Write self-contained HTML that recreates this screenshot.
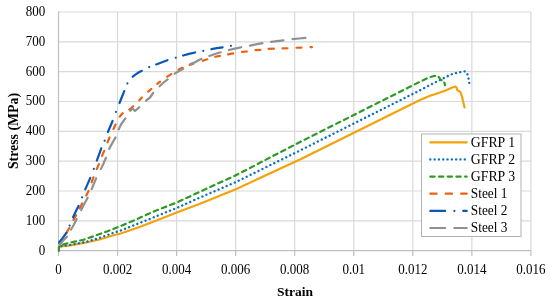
<!DOCTYPE html>
<html><head><meta charset="utf-8"><style>
html,body{margin:0;padding:0;background:#fff;}
body{width:550px;height:300px;overflow:hidden;}
svg{display:block;}
text{font-family:"Liberation Serif",serif;fill:#000;}
</style></head><body>
<svg width="550" height="300" viewBox="0 0 550 300">
<rect width="550" height="300" fill="#fff"/>
<g stroke="#D9D9D9" stroke-width="1.2" fill="none"><line x1="58.5" y1="220.86" x2="531" y2="220.86"/><line x1="58.5" y1="191.02" x2="531" y2="191.02"/><line x1="58.5" y1="161.18" x2="531" y2="161.18"/><line x1="58.5" y1="131.34" x2="531" y2="131.34"/><line x1="58.5" y1="101.50" x2="531" y2="101.50"/><line x1="58.5" y1="71.66" x2="531" y2="71.66"/><line x1="58.5" y1="41.82" x2="531" y2="41.82"/><line x1="58.5" y1="11.98" x2="531" y2="11.98"/><line x1="117.55" y1="12" x2="117.55" y2="251"/><line x1="176.60" y1="12" x2="176.60" y2="251"/><line x1="235.65" y1="12" x2="235.65" y2="251"/><line x1="294.70" y1="12" x2="294.70" y2="251"/><line x1="353.75" y1="12" x2="353.75" y2="251"/><line x1="412.80" y1="12" x2="412.80" y2="251"/><line x1="471.85" y1="12" x2="471.85" y2="251"/><line x1="530.90" y1="12" x2="530.90" y2="251"/></g>
<g stroke="#BFBFBF" stroke-width="1.2" fill="none"><line x1="58.5" y1="11.5" x2="58.5" y2="256"/><line x1="58" y1="250.70" x2="531" y2="250.70"/><line x1="117.55" y1="250.70" x2="117.55" y2="256"/><line x1="176.60" y1="250.70" x2="176.60" y2="256"/><line x1="235.65" y1="250.70" x2="235.65" y2="256"/><line x1="294.70" y1="250.70" x2="294.70" y2="256"/><line x1="353.75" y1="250.70" x2="353.75" y2="256"/><line x1="412.80" y1="250.70" x2="412.80" y2="256"/><line x1="471.85" y1="250.70" x2="471.85" y2="256"/><line x1="530.90" y1="250.70" x2="530.90" y2="256"/></g>
<g font-size="13"><text transform="translate(45.3,254.60) scale(1,1.13)" text-anchor="end">0</text><text transform="translate(45.3,224.76) scale(1,1.13)" text-anchor="end">100</text><text transform="translate(45.3,194.92) scale(1,1.13)" text-anchor="end">200</text><text transform="translate(45.3,165.08) scale(1,1.13)" text-anchor="end">300</text><text transform="translate(45.3,135.24) scale(1,1.13)" text-anchor="end">400</text><text transform="translate(45.3,105.40) scale(1,1.13)" text-anchor="end">500</text><text transform="translate(45.3,75.56) scale(1,1.13)" text-anchor="end">600</text><text transform="translate(45.3,45.72) scale(1,1.13)" text-anchor="end">700</text><text transform="translate(45.3,15.88) scale(1,1.13)" text-anchor="end">800</text><text transform="translate(58.50,273.8) scale(1,1.13)" text-anchor="middle">0</text><text transform="translate(117.55,273.8) scale(1,1.13)" text-anchor="middle">0.002</text><text transform="translate(176.60,273.8) scale(1,1.13)" text-anchor="middle">0.004</text><text transform="translate(235.65,273.8) scale(1,1.13)" text-anchor="middle">0.006</text><text transform="translate(294.70,273.8) scale(1,1.13)" text-anchor="middle">0.008</text><text transform="translate(353.75,273.8) scale(1,1.13)" text-anchor="middle">0.01</text><text transform="translate(412.80,273.8) scale(1,1.13)" text-anchor="middle">0.012</text><text transform="translate(471.85,273.8) scale(1,1.13)" text-anchor="middle">0.014</text><text transform="translate(530.90,273.8) scale(1,1.13)" text-anchor="middle">0.016</text></g>
<text transform="translate(295,295.6) scale(1.04,1.03)" text-anchor="middle" font-size="13" font-weight="bold">Strain</text>
<text transform="translate(17.6,131) rotate(-90) scale(1.065,1.12)" text-anchor="middle" font-size="13" font-weight="bold">Stress (MPa)</text>
<g><polyline points="58.9,246.7 70.5,245.3 85.1,242.7 99.6,239.5 114.2,235.0 120.0,233.7 136.7,228.0 153.3,221.7 176.7,212.5 200.0,203.7 235.2,189.5 300.0,159.4 420.0,100.0 430.0,95.8 440.0,92.5 445.0,90.8 451.7,87.8 455.5,86.5 456.5,87.5 457.5,90.3 459.2,91.2 460.7,92.5 461.3,95.0 462.2,97.2 463.0,101.0 464.6,107.5" stroke="#F3A20C" stroke-width="2.2" stroke-linecap="round" stroke-linejoin="round" fill="none"/><polyline points="58.9,246.4 70.5,244.8 85.1,242.2 99.6,237.9 114.2,232.5 120.0,230.8 136.7,224.2 153.3,217.5 176.7,208.0 200.0,197.5 235.2,182.4 300.0,150.5 420.0,90.3 430.0,85.0 440.0,80.0 450.0,75.0 452.8,73.8 457.0,72.8 461.0,72.0 465.0,71.3 466.8,72.6 467.8,75.5 468.6,79.0 469.3,83.0" stroke="#0870C2" stroke-width="2.4" stroke-dasharray="0.01 4.4" stroke-dashoffset="1.89" stroke-linecap="round" stroke-linejoin="round" fill="none"/><polyline points="58.9,251.0 58.9,247.3 61.7,244.8 70.0,242.6 77.8,241.0 83.7,239.7 92.4,236.6 106.9,231.5 121.5,225.7 136.7,219.2 153.3,211.7 176.7,202.5 200.0,191.7 235.2,175.6 300.0,142.0 420.0,81.7 428.7,77.5 433.0,76.3 436.5,75.5 438.0,75.8 440.8,80.0 443.5,80.6 444.2,82.0 445.0,85.3" stroke="#2E9A24" stroke-width="2.2" stroke-dasharray="4.6 4.2" stroke-linecap="round" stroke-linejoin="round" fill="none"/><polyline points="58.7,243.8 62.5,238.5 66.5,233.0 69.5,227.5 73.2,220.5 77.0,213.5 79.2,209.2 83.0,202.0 86.0,196.0 89.0,190.0 91.3,183.0 93.6,177.0 96.3,170.1 99.3,163.1 101.6,157.0 104.5,150.0 107.0,143.5 110.0,136.5 113.0,130.0 116.0,123.5 119.0,117.5 121.5,114.5 123.5,112.5 126.0,111.3 128.5,110.3 131.0,108.3 134.0,105.5 138.0,101.5 139.3,100.2 142.8,96.6 147.4,92.4 152.1,88.3 156.5,84.5 161.0,81.0 166.2,77.2 172.2,73.5 177.5,70.0 183.5,67.3 188.7,65.2 194.0,63.5 201.7,61.0 208.3,59.0 214.3,57.0 221.0,55.7 227.0,54.5 234.3,53.2 241.0,52.0 248.0,51.4 254.5,50.3 261.5,49.7 267.5,49.0 275.0,48.6 281.5,48.4 288.5,48.2 295.5,47.8 302.5,47.6 309.5,47.2 313.0,47.1" stroke="#EE600E" stroke-width="2.2" stroke-dasharray="4.21 8.13 5.52 9.24 5.29 7.64 5.77 8.90 5.02 9.22 5.31 8.81 5.42 8.81 5.47 9.16 5.23 9.36 4.96 8.91 4.53 7.59 5.18 8.56 3.80 8.58 4.04 7.86 3.65 8.64 4.85 8.67 4.22 7.85 3.84 9.82 4.70 8.52 4.62 8.30 5.22 9.02 4.83 8.80 4.82 8.24 5.31 8.71 4.81 9.21 4.80 9.21 1.30 5000.00" stroke-dashoffset="-1.10" stroke-linecap="round" stroke-linejoin="round" fill="none"/><polyline points="58.4,243.4 62.0,239.0 67.0,232.0 69.6,225.6 72.5,218.5 76.0,211.0 79.2,204.5 82.0,197.5 84.8,190.5 90.7,176.8 93.8,168.9 96.3,162.0 101.6,147.5 104.7,140.5 107.5,133.0 113.0,120.0 116.5,110.5 119.5,103.0 122.5,95.5 124.7,90.0 127.0,84.0 129.3,80.3 131.7,77.5 135.0,74.8 138.5,72.5 142.8,70.3 149.2,67.1 156.0,64.5 162.0,62.2 168.5,59.8 175.7,57.7 182.0,55.8 189.0,53.9 196.2,52.2 203.3,50.8 210.3,49.4 217.0,48.2 223.7,47.2 231.0,45.8 232.0,45.6" stroke="#0A58B6" stroke-width="2.2" stroke-dasharray="12.09 8.01 0.01 8.98 12.65 9.31 0.01 8.50 12.62 9.59 0.01 8.90 12.95 8.39 0.01 9.28 11.92 9.64 0.01 9.63 12.82 8.32 0.01 8.56 10.96 8.26 0.01 7.44 12.12 8.57 0.01 7.67 12.47 8.28 0.01 8.27 11.37 8.55 0.01 5000.00" stroke-dashoffset="-1.10" stroke-linecap="round" stroke-linejoin="round" fill="none"/><polyline points="58.8,245.5 63.0,240.8 67.7,236.0 70.5,230.5 74.0,224.5 77.0,218.5 80.7,211.0 84.5,203.5 88.2,196.7 91.3,190.2 96.5,177.3 100.4,170.1 103.5,163.5 106.3,157.0 108.6,150.0 110.9,145.6 113.5,141.0 116.0,136.5 118.0,131.0 121.0,124.5 126.0,117.5 129.5,111.5 132.5,108.5 135.0,111.0 140.0,106.5 145.0,101.3 150.0,97.5 153.8,92.1 158.6,87.3 163.0,83.0 168.5,78.7 173.7,74.2 179.0,71.0 184.2,68.2 189.5,64.5 195.0,62.2 200.0,59.5 208.3,56.3 215.0,54.0 221.7,52.0 227.7,50.3 235.0,48.6 242.3,47.0 249.0,45.8 256.0,44.4 263.5,43.0 270.0,42.0 277.0,41.2 284.5,40.2 291.5,39.2 299.0,38.5 306.5,37.8" stroke="#909090" stroke-width="2.2" stroke-dasharray="10.82 8.37 11.90 10.11 13.95 9.40 11.71 10.39 12.45 9.47 13.01 8.72 12.90 9.15 12.30 9.60 10.50 9.27 10.65 9.08 9.90 8.66 12.10 8.44 11.88 8.44 12.77 9.01 12.57 8.78 12.41 9.27 12.87 5000.00" stroke-dashoffset="-1.10" stroke-linecap="round" stroke-linejoin="round" fill="none"/></g>
<rect x="421.5" y="134" width="99.5" height="102.5" fill="#fff" stroke="#B2B2B2" stroke-width="1"/>
<g><line x1="430.3" y1="142.3" x2="466.7" y2="142.3" stroke="#F3A20C" stroke-width="2.2" stroke-linecap="round" stroke-linejoin="round" fill="none"/><line x1="430.3" y1="159.4" x2="466.7" y2="159.4" stroke="#0870C2" stroke-width="2.4" stroke-dasharray="0.01 4.3" stroke-linecap="round" stroke-linejoin="round" fill="none"/><line x1="430.3" y1="176.6" x2="466.7" y2="176.6" stroke="#2E9A24" stroke-width="2.2" stroke-dasharray="4.3 4.4" stroke-linecap="round" stroke-linejoin="round" fill="none"/><line x1="430.3" y1="193.7" x2="466.7" y2="193.7" stroke="#EE600E" stroke-width="2.2" stroke-dasharray="6.3 9.1" stroke-linecap="round" stroke-linejoin="round" fill="none"/><line x1="430.3" y1="210.9" x2="466.7" y2="210.9" stroke="#0A58B6" stroke-width="2.2" stroke-dasharray="14.8 9.3 0.01 8.8" stroke-linecap="round" stroke-linejoin="round" fill="none"/><line x1="430.3" y1="228.0" x2="466.7" y2="228.0" stroke="#909090" stroke-width="2.2" stroke-dasharray="14.8 9.2" stroke-linecap="round" stroke-linejoin="round" fill="none"/></g>
<g font-size="13"><text transform="translate(470.8,146.8) scale(1.06,1.07)">GFRP 1</text><text transform="translate(470.8,163.9) scale(1.06,1.07)">GFRP 2</text><text transform="translate(470.8,181.1) scale(1.06,1.07)">GFRP 3</text><text transform="translate(470.8,198.2) scale(1.025,1.07)">Steel 1</text><text transform="translate(470.8,215.4) scale(1.025,1.07)">Steel 2</text><text transform="translate(470.8,232.0) scale(1.025,1.07)">Steel 3</text></g>
</svg>
</body></html>
